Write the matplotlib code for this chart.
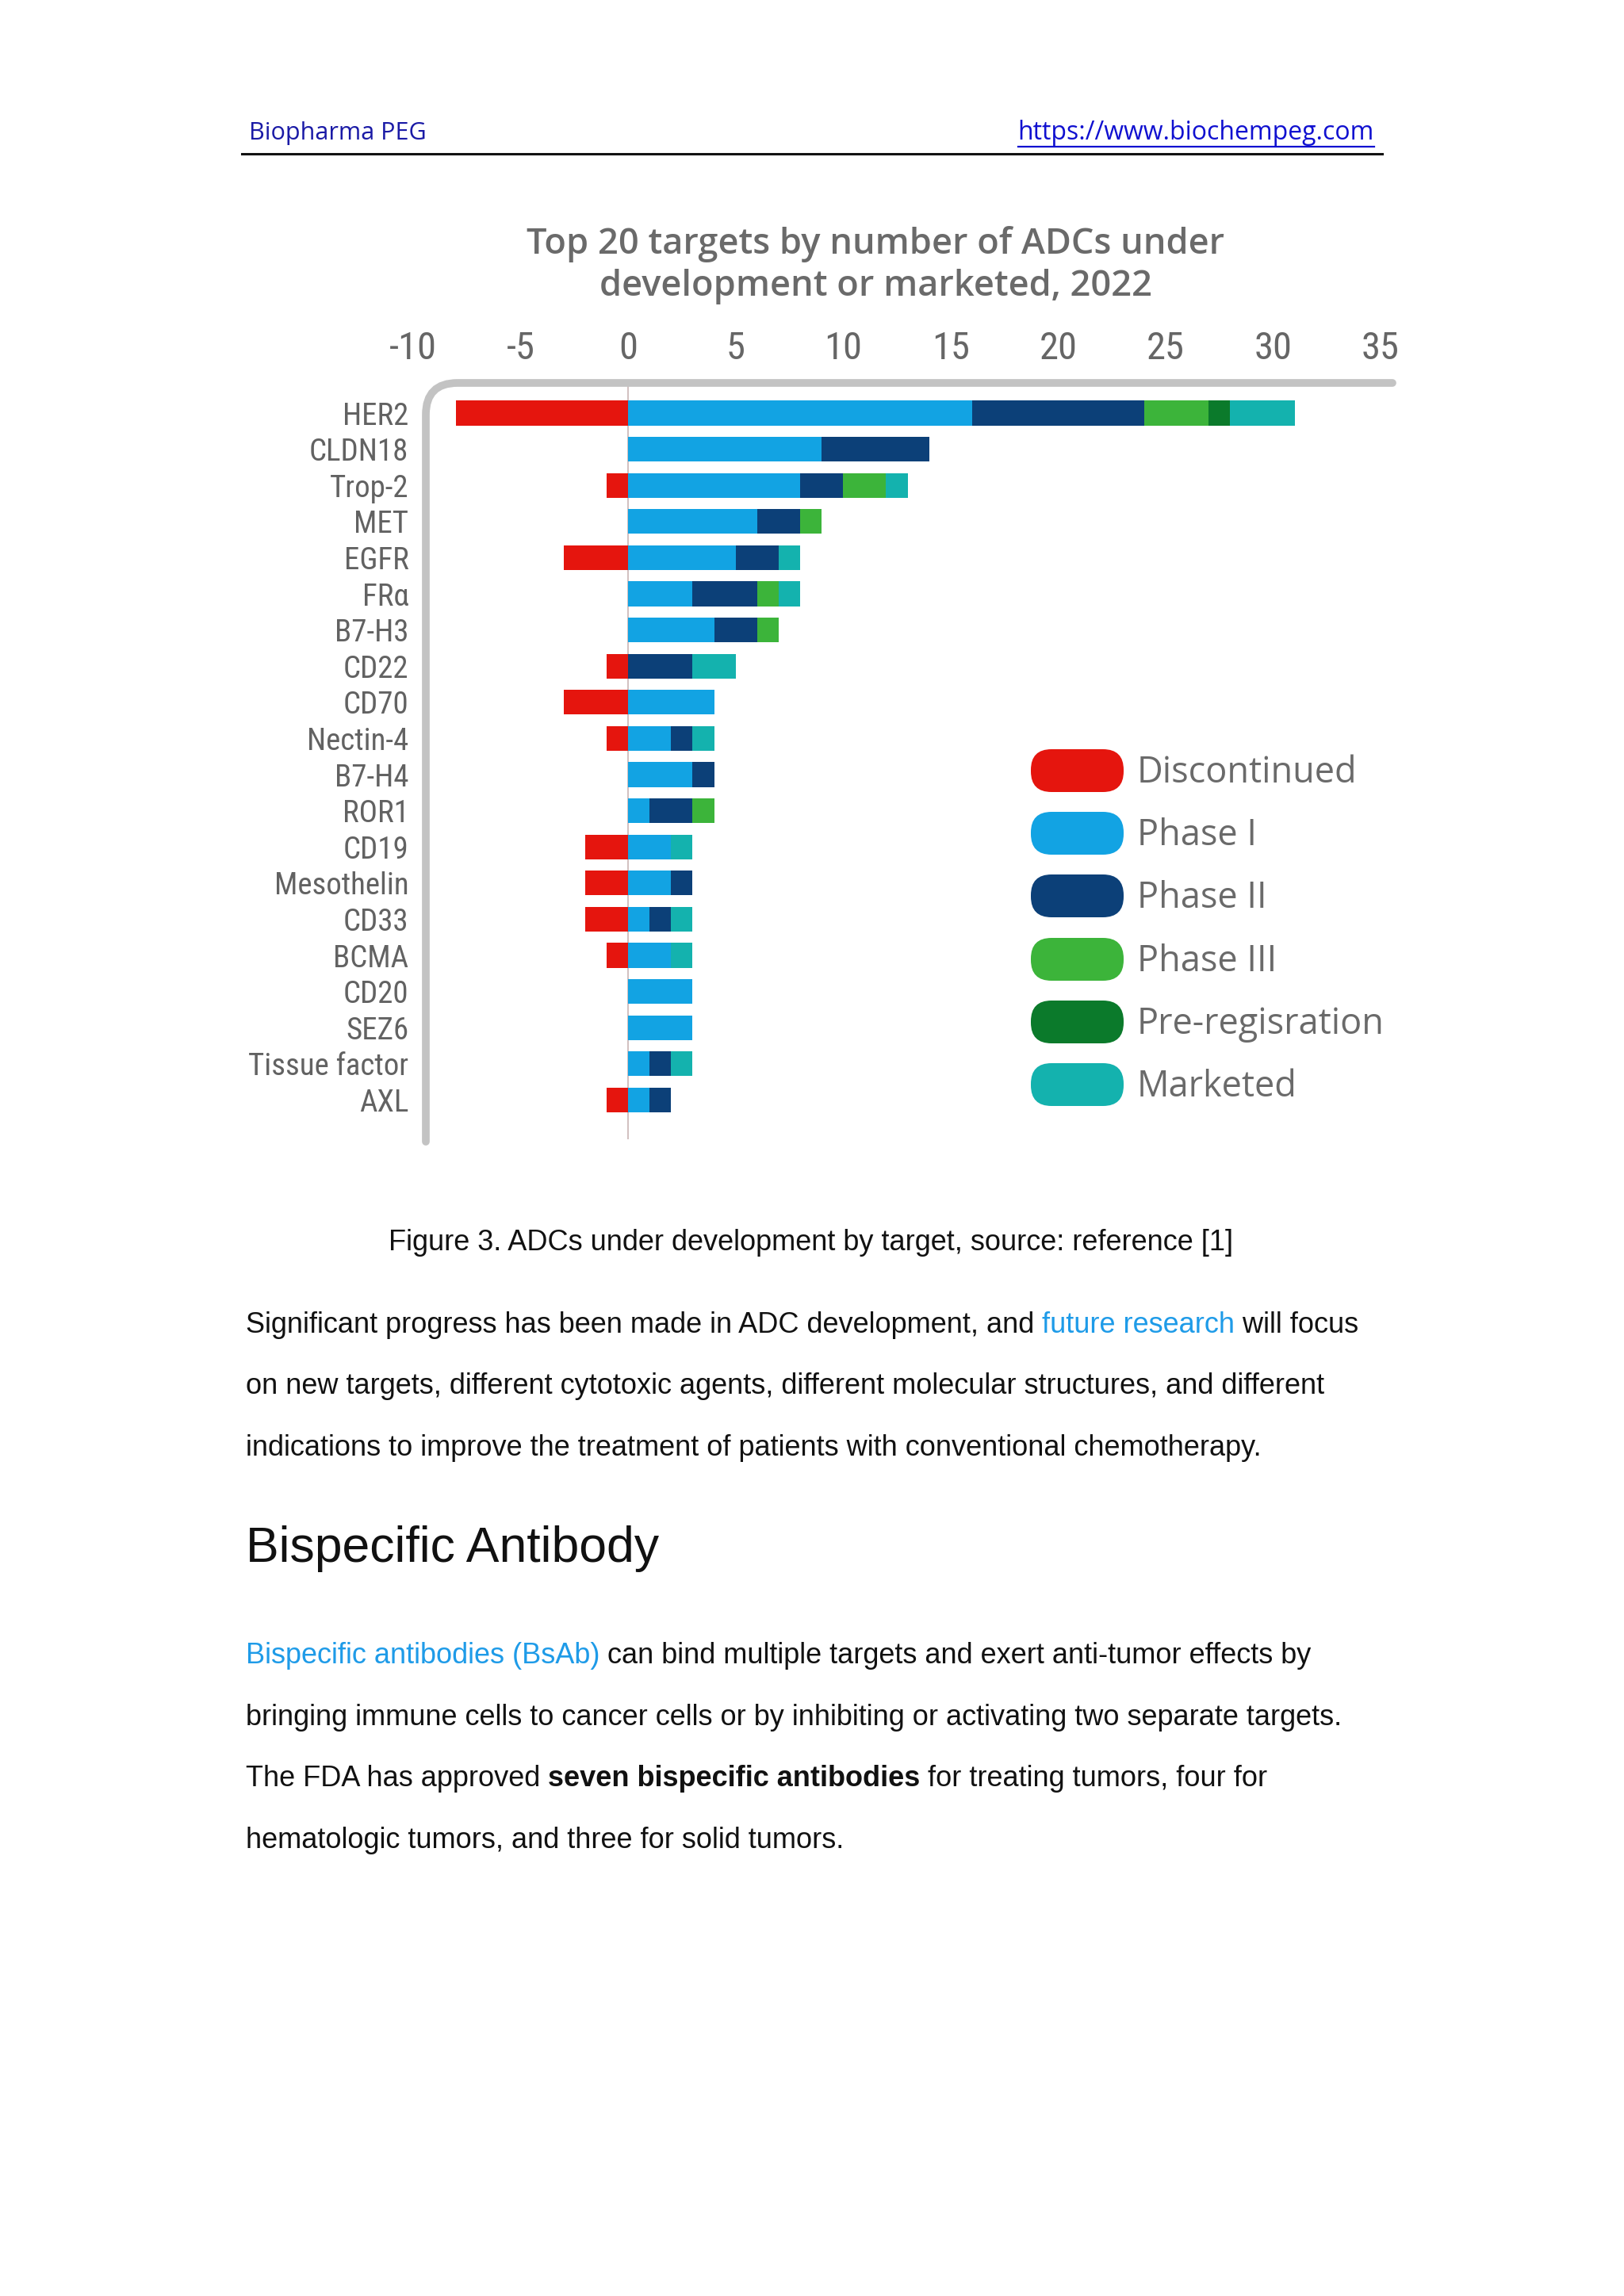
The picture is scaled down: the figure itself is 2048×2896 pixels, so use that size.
import numpy as np
import matplotlib
matplotlib.use('Agg')
import matplotlib.pyplot as plt
from matplotlib.patches import FancyBboxPatch, PathPatch
from matplotlib.path import Path
import matplotlib.transforms as mtransforms
from matplotlib import font_manager as fm

plt.rcParams['font.family'] = ['Liberation Sans', 'DejaVu Sans']

W, H = 2048, 2896

targets = ['HER2', 'CLDN18', 'Trop-2', 'MET', 'EGFR', 'FRα', 'B7-H3', 'CD22', 'CD70',
           'Nectin-4', 'B7-H4', 'ROR1', 'CD19', 'Mesothelin', 'CD33', 'BCMA', 'CD20',
           'SEZ6', 'Tissue factor', 'AXL']
discontinued = [-8, 0, -1, 0, -3, 0, 0, -1, -3, -1, 0, 0, -2, -2, -2, -1, 0, 0, 0, -1]
phase1 = [16, 9, 8, 6, 5, 3, 4, 0, 4, 2, 3, 1, 2, 2, 1, 2, 3, 3, 1, 1]
phase2 = [8, 5, 2, 2, 2, 3, 2, 3, 0, 1, 1, 2, 0, 1, 1, 0, 0, 0, 1, 1]
phase3 = [3, 0, 2, 1, 0, 1, 1, 0, 0, 0, 0, 1, 0, 0, 0, 0, 0, 0, 0, 0]
prereg = [1, 0, 0, 0, 0, 0, 0, 0, 0, 0, 0, 0, 0, 0, 0, 0, 0, 0, 0, 0]
marketed = [3, 0, 1, 0, 1, 1, 0, 2, 0, 1, 0, 0, 1, 0, 1, 1, 0, 0, 1, 0]
x_ticks = [-10, -5, 0, 5, 10, 15, 20, 25, 30, 35]
legend_labels = ['Discontinued', 'Phase I', 'Phase II', 'Phase III', 'Pre-regisration', 'Marketed']
colors = ['#e5150e', '#12a3e3', '#0c4078', '#3cb43a', '#0b7a2b', '#14b2ae']


# look for a condensed / narrow face for the axis labels
def find_condensed():
    prefs = ['Open Sans', 'Noto Sans', 'Roboto', 'Liberation Sans', 'DejaVu Sans']
    cands = []
    for f in fm.fontManager.ttflist:
        nm = f.name + ' ' + str(f.fname)
        narrow = ('Condensed' in nm or 'Narrow' in nm or
                  f.stretch in ('condensed', 'semi-condensed', 'extra-condensed', 550, 600, 700))
        if not narrow or f.style != 'normal' or f.weight not in (400, 'normal', 'regular'):
            continue
        if 'Semi' in nm or 'Extra' in nm or 'Bold' in nm or 'Light' in nm:
            continue
        rank = len(prefs)
        for i, p in enumerate(prefs):
            if p.split()[0] in f.name:
                rank = i
                break
        cands.append((rank, f.fname))
    if cands:
        cands.sort()
        return fm.FontProperties(fname=cands[0][1])
    return None


cond = find_condensed()

fig = plt.figure(figsize=(W / 100, H / 100), dpi=100)
fig.patch.set_facecolor('white')

# pixel (top-left origin) -> figure transform
px = mtransforms.Affine2D().scale(1 / W, -1 / H).translate(0, 1) + fig.transFigure


def fx(x):
    return x / W


def fy(y):
    return 1 - y / H


# ---- chart axes ----
x0_px, unit = 521, 27.11
xl, xr = -10, 35.5
row0, rstep = 521, 45.6
yt, yb = 482, 1437
ylo = 0 - (row0 - yt) / rstep
yhi = 19 + (yb - (row0 + 19 * rstep)) / rstep
axl = x0_px + (xl + 10) * unit
axr = x0_px + (xr + 10) * unit
ax = fig.add_axes([fx(axl), fy(yb), (axr - axl) / W, (yb - yt) / H])
ax.patch.set_alpha(0)
for s in ax.spines.values():
    s.set_visible(False)

y = np.arange(len(targets))
ax.axvline(0, color='#c9b5b5', lw=1.2, zorder=1)
ax.barh(y, discontinued, height=0.68, color=colors[0], zorder=2)
left = np.zeros(len(targets))
for vals, c in zip([phase1, phase2, phase3, prereg, marketed], colors[1:]):
    ax.barh(y, vals, left=left, height=0.68, color=c, zorder=2)
    left += np.array(vals)

ax.xaxis.tick_top()
ax.set_xticks(x_ticks)
if cond is not None:
    tick_kw = dict(fontproperties=cond)
    ax.set_xticklabels([str(t) for t in x_ticks], color='#666666', **tick_kw)
    for t in ax.get_xticklabels():
        t.set_fontsize(35)
    ax.set_yticks(y)
    ax.set_yticklabels(targets, color='#626262', **tick_kw)
    for t in ax.get_yticklabels():
        t.set_fontsize(28)
else:
    ax.set_xticklabels([str(t) for t in x_ticks], family=['Open Sans', 'DejaVu Sans'],
                       fontsize=32, color='#666666')
    ax.set_yticks(y)
    ax.set_yticklabels(targets, family=['Open Sans', 'DejaVu Sans'], fontsize=25, color='#626262')
ax.set_xlim(xl, xr)
ax.set_ylim(yhi, ylo)
ax.tick_params(axis='x', length=0, pad=13.5)
ax.tick_params(axis='y', length=0, pad=4)

# rounded grey frame (top + left)
r = 40
fl, ft, fr, fb = 537, 483, 1756, 1440
verts = [(fr, ft), (fl + r, ft), (fl, ft), (fl, ft + r), (fl, fb)]
codes = [Path.MOVETO, Path.LINETO, Path.CURVE3, Path.CURVE3, Path.LINETO]
fig.patches.append(PathPatch(Path(verts, codes), transform=px, fill=False,
                             edgecolor='#c3c3c3', lw=7, capstyle='round'))

# title
fig.text(fx(1104), fy(308), 'Top 20 targets by number of ADCs under', ha='center', va='center',
         fontsize=32.5, color='#6a6a6a', family=['Open Sans', 'DejaVu Sans'], weight='semibold')
fig.text(fx(1104), fy(361), 'development or marketed, 2022', ha='center', va='center',
         fontsize=32.5, color='#6a6a6a', family=['Open Sans', 'DejaVu Sans'], weight='semibold')

# legend
leg_y = [972, 1051, 1130, 1210, 1289, 1368]
for lab, c, ly in zip(legend_labels, colors, leg_y):
    fig.patches.append(FancyBboxPatch((1300, ly - 27), 117, 54,
                                      boxstyle='round,pad=0,rounding_size=26',
                                      transform=px, facecolor=c, edgecolor='none'))
    fig.text(fx(1434), fy(ly + 3), lab, ha='left', va='center', fontsize=32.5, color='#6a6a6a',
             family=['Open Sans', 'DejaVu Sans'])

# ---- page text ----
renderer = fig.canvas.get_renderer()


def line(x, yb_px, pieces, size=26):
    for txt, col, wt in pieces:
        t = fig.text(fx(x), fy(yb_px), txt, ha='left', va='baseline', fontsize=size,
                     color=col, weight=wt)
        bb = t.get_window_extent(renderer)
        x += bb.width


# header
fig.text(fx(314), fy(176), 'Biopharma PEG', ha='left', va='baseline', fontsize=22,
         color='#1a1aa6', family=['Open Sans', 'DejaVu Sans'])
url = fig.text(fx(1733), fy(176), 'https://www.biochempeg.com', ha='right', va='baseline',
               fontsize=23, color='#1010d0', family=['Open Sans', 'DejaVu Sans'])
ub = url.get_window_extent(renderer)
fig.lines.append(plt.Line2D([ub.x0, ub.x1], [H - 185, H - 185], transform=None,
                            color='#1010d0', lw=1.6))
fig.lines.append(plt.Line2D([305, 1743], [194, 194], transform=px, color='#111111', lw=2.2))

fig.text(fx(1023), fy(1577), 'Figure 3. ADCs under development by target, source: reference [1]',
         ha='center', va='baseline', fontsize=26, color='#111111')

blk, blue = '#111111', '#1e9be8'
line(310, 1681, [('Significant progress has been made in ADC development, and ', blk, 'normal'),
                 ('future research', blue, 'normal'), (' will focus', blk, 'normal')])
line(310, 1758, [('on new targets, different cytotoxic agents, different molecular structures, and different', blk, 'normal')])
line(310, 1836, [('indications to improve the treatment of patients with conventional chemotherapy.', blk, 'normal')])

fig.text(fx(310), fy(1970), 'Bispecific Antibody', ha='left', va='baseline', fontsize=45, color=blk)

line(310, 2098, [('Bispecific antibodies (BsAb)', blue, 'normal'),
                 (' can bind multiple targets and exert anti-tumor effects by', blk, 'normal')])
line(310, 2176, [('bringing immune cells to cancer cells or by inhibiting or activating two separate targets.', blk, 'normal')])
line(310, 2253, [('The FDA has approved ', blk, 'normal'), ('seven bispecific antibodies', blk, 'bold'),
                 (' for treating tumors, four for', blk, 'normal')])
line(310, 2331, [('hematologic tumors, and three for solid tumors.', blk, 'normal')])

fig.savefig('out.png', dpi=100, facecolor='white')
